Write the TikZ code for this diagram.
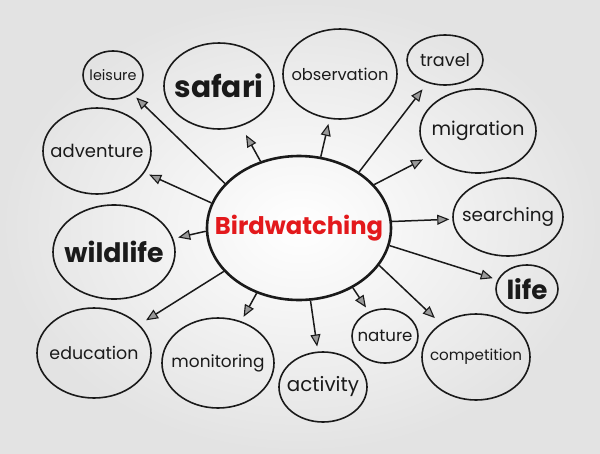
\documentclass[tikz,border=0pt]{standalone}
\usepackage{fontspec}
\setmainfont{Poppins}
\usetikzlibrary{shapes.geometric, arrows.meta}
\definecolor{ink}{HTML}{1A1A1A}
\definecolor{birdred}{HTML}{E3191C}
% scale a word to a given width (in pt)
\newcommand{\fitword}[2]{\resizebox{#1pt}{!}{#2}}

\begin{document}
\begin{tikzpicture}[
  x=1pt, y=-1pt,
  bub/.style={ellipse, draw=ink, line width=1.6pt, inner sep=0pt},
  hubbox/.style={ellipse, draw=ink, line width=2.6pt, inner sep=0pt},
  word/.style={text=ink, inner sep=0pt},
  link/.style={draw=ink, line width=1.5pt, shorten >=5pt,
    -{Triangle[length=12pt, width=10pt, line width=1.1pt, fill=black!40]}},
]
\useasboundingbox (0,0) rectangle (600,453);
\shade[inner color=white, outer color=black!11] (0,0) rectangle (600,453);

% ---------------- centre ----------------
\node[hubbox, minimum width=184pt, minimum height=144pt,
  label={[word, text=birdred]center:\fitword{168}{\bfseries Birdwatching}}] (hub) at (299,228) {};

% ---------------- the ring of words ----------------
\node[bub, minimum width=60pt,  minimum height=48pt, label={[word]center:\fitword{47}{leisure}}]              (leisure)     at (113,75)  {};
\node[bub, minimum width=110pt, minimum height=86pt, label={[word]center:\fitword{89}{\bfseries safari}}]     (safari)      at (219,86)  {};
\node[bub, minimum width=114pt, minimum height=90pt, label={[word]center:\fitword{97}{observation}}]          (observation) at (340,74)  {};
\node[bub, minimum width=76pt,  minimum height=50pt, label={[word]center:\fitword{50}{travel}}]               (travel)      at (445,60)  {};
\node[bub, minimum width=116pt, minimum height=84pt, label={[word]center:\fitword{93}{migration}}]            (migration)   at (478,131) {};
\node[bub, minimum width=110pt, minimum height=78pt, label={[word]center:\fitword{92}{searching}}]            (searching)   at (508,217) {};
\node[bub, minimum width=62pt,  minimum height=48pt, label={[word]center:\fitword{41}{\bfseries life}}]       (life)        at (527,289) {};
\node[bub, minimum width=108pt, minimum height=86pt, label={[word]center:\fitword{92}{competition}}]          (competition) at (476,357) {};
\node[bub, minimum width=66pt,  minimum height=54pt, label={[word]center:\fitword{55}{nature}}]               (nature)      at (385,336) {};
\node[bub, minimum width=88pt,  minimum height=70pt, label={[word]center:\fitword{72}{activity}}]             (activity)    at (323,387) {};
\node[bub, minimum width=112pt, minimum height=90pt, label={[word]center:\fitword{93}{monitoring}}]           (monitoring)  at (218,363) {};
\node[bub, minimum width=114pt, minimum height=90pt, label={[word]center:\fitword{89}{education}}]            (education)   at (94,353)  {};
\node[bub, minimum width=122pt, minimum height=94pt, label={[word]center:\fitword{99}{\bfseries wildlife}}]   (wildlife)    at (114,252) {};
\node[bub, minimum width=108pt, minimum height=86pt, label={[word]center:\fitword{93}{adventure}}]            (adventure)   at (97,151)  {};

% ---------------- arrows out of the centre ----------------
\draw[link] (hub.149) -- (leisure);
\draw[link, shorten >=10pt] (hub.120) -- (safari);
\draw[link] (hub.73)  -- (observation);
\draw[link, shorten >=8pt] (hub.43)  -- (travel);
\draw[link, shorten >=8pt] (hub.30)  -- (migration);
\draw[link, shorten >=3pt] (hub.4)   -- (searching);
\draw[link] (hub.-11) -- (life);
\draw[link, shorten >=8pt] (hub.-25) -- (competition);
\draw[link] (hub.-48) -- (nature);
\draw[link] (hub.-81) -- (activity);
\draw[link] (hub.237) -- (monitoring);
\draw[link, shorten >=8pt] (hub.210) -- (education);
\draw[link] (hub.182) -- (wildlife);
\draw[link] (hub.164) -- (adventure);

\end{tikzpicture}
\end{document}
